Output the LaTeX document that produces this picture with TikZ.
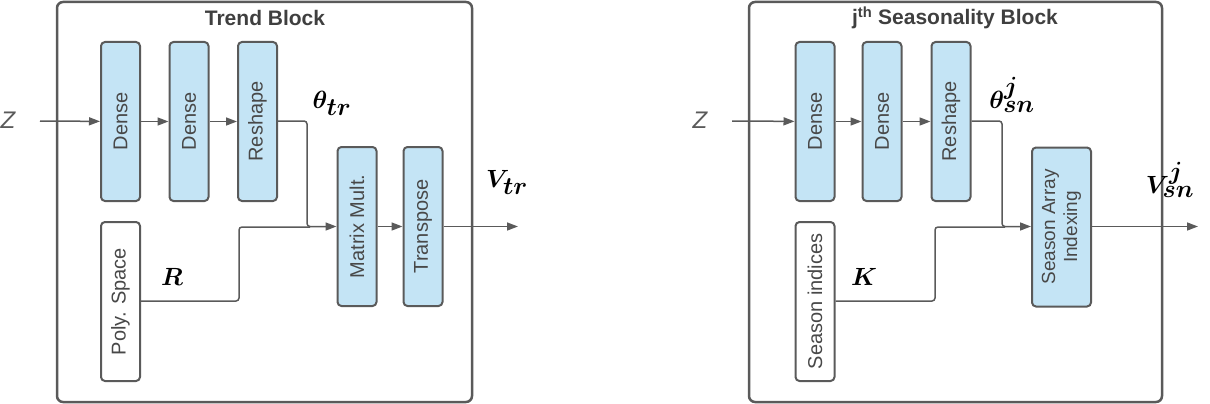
\documentclass[tikz,border=0pt]{standalone}
\usepackage{fontspec}
\setmainfont{Liberation Sans}
\usepackage{bm}
\usetikzlibrary{arrows.meta}
\definecolor{edge}{HTML}{5A5A5A}
\definecolor{lblue}{HTML}{C4E4F5}
\begin{document}
\begin{tikzpicture}[x=1pt,y=-1pt,
  blk/.style={draw=edge,line width=2pt,rounded corners=4pt,fill=lblue,rotate=90,
    minimum width=159pt,minimum height=39pt,inner sep=0pt,font=\fontsize{20}{22}\selectfont,text=edge!80!black},
  wblk/.style={blk,fill=white},
  outer/.style={draw=edge,line width=2.5pt,rounded corners=6pt},
  con/.style={draw=edge,line width=1.5pt,rounded corners=3pt,-{Triangle[length=11pt,width=8pt]}},
  plain/.style={draw=edge,line width=1.5pt,rounded corners=3pt},
  ttl/.style={font=\bfseries\fontsize{21}{24}\selectfont,text=edge!70!black},
  mth/.style={font=\boldmath\fontsize{33}{36}\selectfont},
  zin/.style={font=\itshape\fontsize{24}{26}\selectfont,text=edge}]
\useasboundingbox (0,0) rectangle (1210,404);
% Trend block
\draw[outer] (57,2) rectangle (472,402);
\node[ttl] (t1) at (265,18) {Trend Block};
\node[zin] (z1) at (8,120) {Z};
\coordinate (z1s) at (40,121);
\node[blk] (d1) at (120.5,121.5) {Dense};
\node[blk] (d2) at (189,121.5) {Dense};
\node[blk] (r1) at (257.5,121.5) {Reshape};
\node[wblk] (p1) at (120.5,301.5) {Poly. Space};
\node[blk] (m1) at (357,226.5) {Matrix Mult.};
\node[blk] (tr1) at (423,226.5) {Transpose};
\coordinate (o1) at (518,226.5);
\draw[con] (z1s) -- (d1);
\draw[con] (d1) -- (d2);
\draw[con] (d2) -- (r1);
\draw[con] (r1.south |- 0,121) -- (307,121) -- (307,226.5) -- (m1);
\draw[plain] (p1.south |- 0,301) -- (239,301) -- (239,227) -- (310,227);
\draw[con] (m1) -- (tr1);
\draw[con] (tr1) -- (o1);
\node[mth] (th1) at (332,103) {$\theta_{tr}$};
\node[mth] (R1) at (172,277) {$\bm{R}$};
\node[mth] (v1) at (507,182) {$V_{tr}$};
% Seasonality block
\draw[outer] (749,2) rectangle (1162,402);
\node[ttl] (t2) at (955,18) {j\textsuperscript{th} Seasonality Block};
\node[zin] (z2) at (700,120) {Z};
\coordinate (z2s) at (732,121);
\node[blk] (d3) at (815,121.5) {Dense};
\node[blk] (d4) at (882,121.5) {Dense};
\node[blk] (r2) at (951,121.5) {Reshape};
\node[wblk] (s2) at (815,301.5) {Season indices};
\node[blk,minimum height=59pt,align=center,font=\fontsize{19}{22}\selectfont] (a2) at (1061.5,227) {Season Array\\Indexing};
\coordinate (o2) at (1198,226.5);
\draw[con] (z2s) -- (d3);
\draw[con] (d3) -- (d4);
\draw[con] (d4) -- (r2);
\draw[con] (r2.south |- 0,121) -- (1002,121) -- (1002,226.5) -- (a2.north |- 0,226.5);
\draw[plain] (s2.south |- 0,301) -- (935,301) -- (935,227) -- (1005,227);
\draw[con] (a2.south |- 0,226.5) -- (o2);
\node[mth] (th2) at (1012,95) {$\theta_{sn}^{j}$};
\node[mth] (K2) at (864,277) {$\bm{K}$};
\node[mth] (v2) at (1170,180) {$V_{sn}^{j}$};
\end{tikzpicture}
\end{document}
